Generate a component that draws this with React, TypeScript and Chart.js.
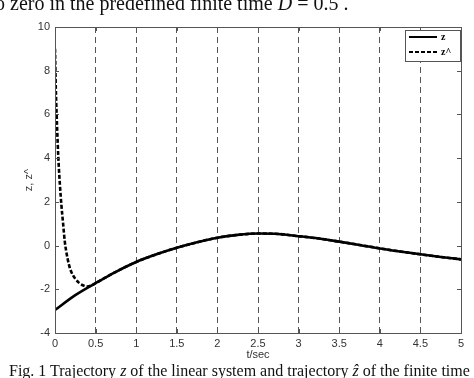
import React, { useEffect, useRef } from "react";
import { Chart, registerables } from "chart.js";

Chart.register(...registerables);

const zTimes = [0, 0.25, 0.5, 0.75, 1, 1.25, 1.5, 1.75, 2, 2.25, 2.5, 2.75, 3, 3.25, 3.5, 3.75, 4, 4.25, 4.5, 4.75, 5];
const zValues = [-2.95, -2.27, -1.72, -1.2, -0.75, -0.4, -0.1, 0.15, 0.36, 0.49, 0.55, 0.53, 0.43, 0.32, 0.18, 0.03, -0.13, -0.27, -0.4, -0.52, -0.63];

const zhatTimes = [0, 0.01, 0.02, 0.03, 0.04, 0.06, 0.08, 0.1, 0.12, 0.14, 0.17, 0.2, 0.25, 0.3, 0.35, 0.4, 0.45, 0.5, 0.75, 1, 1.25, 1.5, 1.75, 2, 2.25, 2.5, 2.75, 3, 3.25, 3.5, 3.75, 4, 4.25, 4.5, 4.75, 5];
const zhatValues = [9, 7.2, 6, 5, 4.1, 2.8, 1.8, 1.0, 0.2, -0.3, -0.85, -1.2, -1.52, -1.72, -1.83, -1.87, -1.82, -1.72, -1.2, -0.75, -0.4, -0.1, 0.15, 0.36, 0.49, 0.55, 0.53, 0.43, 0.32, 0.18, 0.03, -0.13, -0.27, -0.4, -0.52, -0.63];

const seriesLabels = ["z", "z^"];
const xTitle = "t/sec";
const yTitle = "z, z^";
const topText = "o zero in the predefined finite time ";
const captionText = "Fig. 1 Trajectory ";

const frameColor = "#555";

const framePlugin = {
  id: "frameAndLegend",
  afterDraw(chart: any) {
    const { ctx, chartArea } = chart;
    const { left, right, top, bottom } = chartArea;
    const xs = chart.scales.x;
    const ys = chart.scales.y;
    ctx.save();
    ctx.strokeStyle = frameColor;
    ctx.lineWidth = 1;
    ctx.setLineDash([]);
    ctx.strokeRect(Math.round(left) + 0.5, Math.round(top) + 0.5, Math.round(right - left), Math.round(bottom - top));
    const tl = 4;
    ctx.beginPath();
    xs.ticks.forEach((t: any) => {
      const px = Math.round(xs.getPixelForValue(t.value)) + 0.5;
      ctx.moveTo(px, top);
      ctx.lineTo(px, top + tl);
      ctx.moveTo(px, bottom);
      ctx.lineTo(px, bottom - tl);
    });
    ys.ticks.forEach((t: any) => {
      const py = Math.round(ys.getPixelForValue(t.value)) + 0.5;
      ctx.moveTo(left, py);
      ctx.lineTo(left + tl, py);
      ctx.moveTo(right, py);
      ctx.lineTo(right - tl, py);
    });
    ctx.stroke();

    // legend box
    const bx = 405.5, by = 30.5, bw = 55, bh = 31;
    ctx.fillStyle = "#fff";
    ctx.fillRect(bx, by, bw, bh);
    ctx.strokeStyle = frameColor;
    ctx.strokeRect(bx, by, bw, bh);
    const rows = [37, 52];
    chart.data.datasets.forEach((ds: any, i: number) => {
      const y = rows[i];
      ctx.strokeStyle = "#000";
      ctx.lineWidth = 2;
      ctx.setLineDash(ds.borderDash || []);
      ctx.beginPath();
      ctx.moveTo(409, y);
      ctx.lineTo(437, y);
      ctx.stroke();
      ctx.setLineDash([]);
      ctx.fillStyle = "#000";
      ctx.font = "bold 10px 'Liberation Serif'";
      ctx.textBaseline = "middle";
      ctx.textAlign = "left";
      ctx.fillText(ds.label, 441, y);
    });
    ctx.restore();
  },
};

export default function App() {
  const ref = useRef<HTMLCanvasElement>(null);
  useEffect(() => {
    if (!ref.current) return;
    const chart = new Chart(ref.current, {
      type: "line",
      data: {
        datasets: [
          {
            label: seriesLabels[0],
            data: zTimes.map((t, i) => ({ x: t, y: zValues[i] })),
            borderColor: "#000",
            borderWidth: 2.6,
            pointRadius: 0,
            cubicInterpolationMode: "monotone",
            fill: false,
          },
          {
            label: seriesLabels[1],
            data: zhatTimes.map((t, i) => ({ x: t, y: zhatValues[i] })),
            borderColor: "#000",
            borderWidth: 2.6,
            borderDash: [4, 2],
            pointRadius: 0,
            cubicInterpolationMode: "monotone",
            fill: false,
          },
        ],
      },
      options: {
        animation: false,
        responsive: false,
        maintainAspectRatio: false,
        layout: { padding: { left: 0, top: 27, right: 13, bottom: 0 } },
        plugins: { legend: { display: false }, tooltip: { enabled: false } },
        scales: {
          x: {
            type: "linear",
            min: 0,
            max: 5,
            afterFit: (s: any) => { s.height = 45; },
            ticks: { stepSize: 0.5, padding: 4, color: "#333", font: { family: "'Liberation Sans'", size: 11 }, maxRotation: 0, callback: (v: any) => String(Number(v)) },
            grid: { display: true, drawTicks: false, color: "#555", lineWidth: 1 },
            border: { display: true, dash: [6, 4], color: frameColor },
            title: { display: true, text: xTitle, color: "#333", font: { family: "'Liberation Sans'", size: 11 }, padding: { top: 0, bottom: 16 } },
          },
          y: {
            type: "linear",
            min: -4,
            max: 10,
            afterFit: (s: any) => { s.width = 55; },
            ticks: { stepSize: 2, padding: 5, color: "#333", font: { family: "'Liberation Sans'", size: 11 }, callback: (v: any) => String(Number(v)) },
            grid: { display: false, drawTicks: false },
            border: { display: true, color: frameColor },
            title: { display: true, text: yTitle, color: "#333", font: { family: "'Liberation Sans'", size: 11 }, padding: { top: 22, bottom: 0 } },
          },
        },
      },
      plugins: [framePlugin],
    } as any);
    return () => chart.destroy();
  }, []);

  return (
    <div style={{ position: "absolute", left: 0, top: 0, width: 474, height: 378, overflow: "hidden", background: "#fff" }}>
      <canvas ref={ref} width={474} height={378} style={{ position: "absolute", left: 0, top: 0 }} />
      <div style={{ position: "absolute", left: -5, top: -7, fontFamily: "'Liberation Serif'", fontSize: 20, lineHeight: "20px", whiteSpace: "nowrap", color: "#111" }}>
        {topText}<i>D</i> = 0.5 .
      </div>
      <div style={{ position: "absolute", left: 9, top: 363, fontFamily: "'Liberation Serif'", fontSize: 16, lineHeight: "16px", whiteSpace: "nowrap", color: "#111" }}>
        {captionText}<i>z</i> of the linear system and trajectory <i>ẑ</i> of the finite time
      </div>
    </div>
  );
}
